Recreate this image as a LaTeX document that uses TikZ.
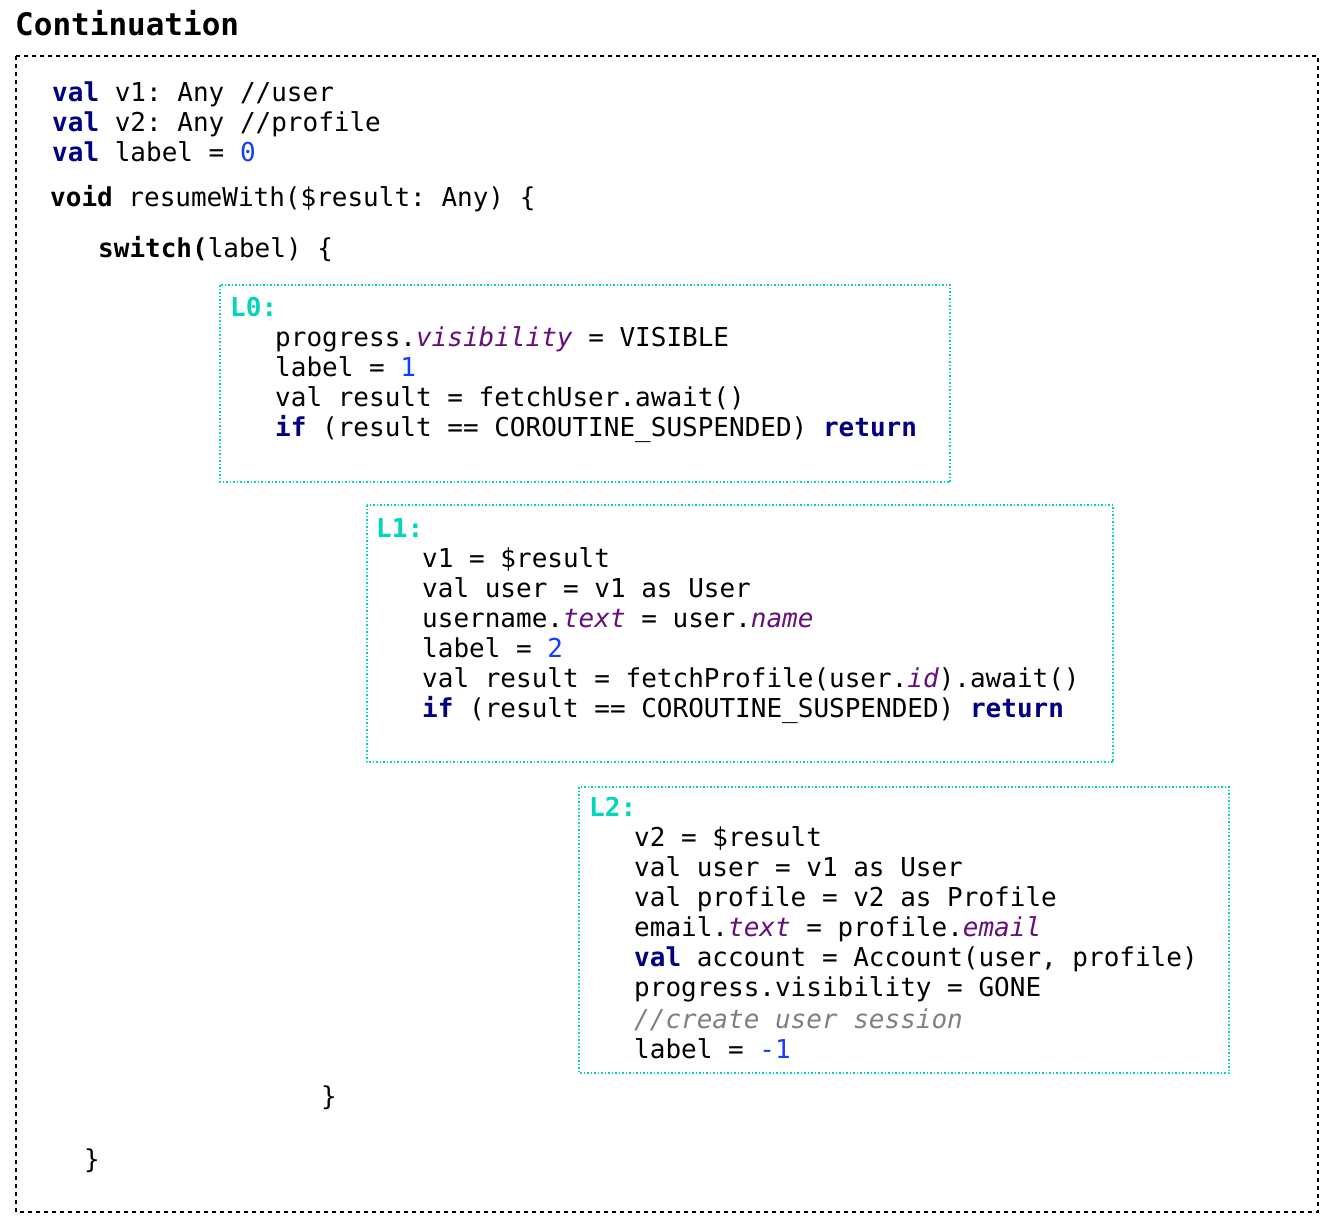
\documentclass[tikz,border=0pt]{standalone}
\usepackage{fontspec}
\setmonofont{DejaVu Sans Mono}
\definecolor{kwc}{RGB}{0,0,128}
\definecolor{numc}{RGB}{20,60,255}
\definecolor{fldc}{RGB}{102,14,122}
\definecolor{tealc}{RGB}{0,215,185}
\definecolor{cmtc}{RGB}{128,128,128}
\newcommand{\kwd}[1]{{\bfseries\color{kwc}#1}}
\newcommand{\numv}[1]{{\color{numc}#1}}
\newcommand{\fldv}[1]{{\itshape\color{fldc}#1}}
\newcommand{\blk}[1]{{\bfseries #1}}
\begin{document}
\begin{tikzpicture}[x=1pt,y=-1pt,
  c/.style={anchor=base west,inner sep=0pt,font=\ttfamily\fontsize{26}{30}\selectfont},
  lab/.style={c,font=\ttfamily\bfseries\fontsize{26}{30}\selectfont,text=tealc},
  box/.style={draw=tealc,line width=1.5pt,dotted}]
\useasboundingbox (0,0) rectangle (1334,1228);
\node[anchor=base west,inner sep=0pt,font=\ttfamily\bfseries\fontsize{31}{34}\selectfont] (title) at (15,36) {Continuation};
\draw[line width=1.5pt,dash pattern=on 4pt off 4pt] (16,56) rectangle (1318,1212);
\node[c] (a1) at (52,102) {\kwd{val} v1: Any //user};
\node[c] (a2) at (52,132) {\kwd{val} v2: Any //profile};
\node[c] (a3) at (52,162) {\kwd{val} label = \numv{0}};
\node[c] (a4) at (50,207) {\blk{void} resumeWith(\$result: Any) \{};
\node[c] (a5) at (98,257) {\blk{switch(}label) \{};
\draw[box] (220,285) rectangle (950,482);
\node[lab] (L0) at (230,316) {L0:};
\node[c] (b1) at (275,346) {progress.\fldv{visibility} = VISIBLE};
\node[c] (b2) at (275,376) {label = \numv{1}};
\node[c] (b3) at (275,406) {val result = fetchUser.await()};
\node[c] (b4) at (275,436) {\kwd{if} (result == COROUTINE\_SUSPENDED) \kwd{return}};
\draw[box] (367,505) rectangle (1113,762);
\node[lab] (L1) at (376,537) {L1:};
\node[c] (c1) at (422,567) {v1 = \$result};
\node[c] (c2) at (422,597) {val user = v1 as User};
\node[c] (c3) at (422,627) {username.\fldv{text} = user.\fldv{name}};
\node[c] (c4) at (422,657) {label = \numv{2}};
\node[c] (c5) at (422,687) {val result = fetchProfile(user.\fldv{id}).await()};
\node[c] (c6) at (422,717) {\kwd{if} (result == COROUTINE\_SUSPENDED) \kwd{return}};
\draw[box] (579,787) rectangle (1229,1073);
\node[lab] (L2) at (589,816) {L2:};
\node[c] (d1) at (634,846) {v2 = \$result};
\node[c] (d2) at (634,876) {val user = v1 as User};
\node[c] (d3) at (634,906) {val profile = v2 as Profile};
\node[c] (d4) at (634,936) {email.\fldv{text} = profile.\fldv{email}};
\node[c] (d5) at (634,966) {\kwd{val} account = Account(user, profile)};
\node[c] (d6) at (634,996) {progress.visibility = GONE};
\node[c] (d7) at (634,1028) {{\itshape\color{cmtc}//create user session}};
\node[c] (d8) at (634,1058) {label = \numv{-1}};
\node[c] (e1) at (321,1105) {\}};
\node[c] (e2) at (84,1168) {\}};
\end{tikzpicture}
\end{document}
